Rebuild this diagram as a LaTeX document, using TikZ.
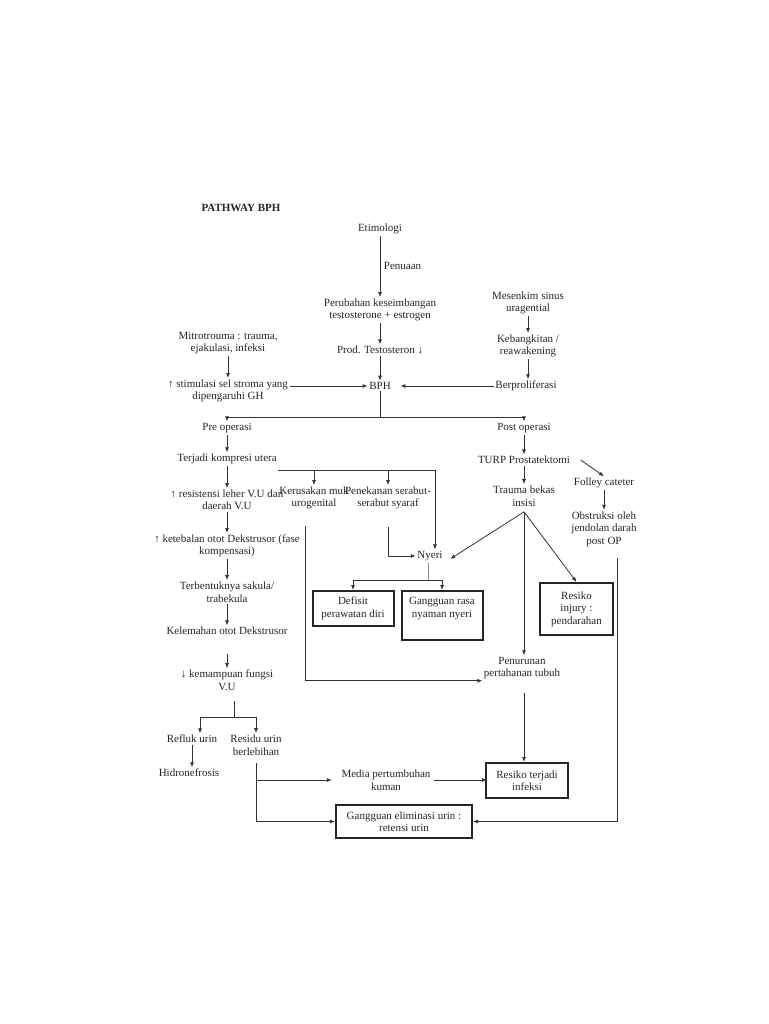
\documentclass[tikz,border=0pt]{standalone}
\usepackage{fontspec}
\setmainfont{Liberation Serif}
\usetikzlibrary{arrows.meta}
\begin{document}
\begin{tikzpicture}[x=1pt,y=-1pt,
	txt/.style={align=center,inner sep=1.5pt,text=black!85,font=\fontsize{11}{12.5}\selectfont},
	dx/.style={txt,draw=black!85,line width=2pt,inner sep=2pt},
	arr/.style={-{Latex[length=5pt,width=4pt]},draw=black!80,line width=0.8pt},
	ln/.style={draw=black!80,line width=0.8pt}]
	% Frame
	\fill[white] (0,0) rectangle (768,1024);
	\useasboundingbox (0,0) rectangle (768,1024);
	% Title
	\node[txt,font=\fontsize{11}{12.5}\selectfont\bfseries] (title) at (241,208) {PATHWAY BPH};
	% Middle column
	\node[txt] (etio) at (380,229) {Etimologi};
	\node[txt] (perub) at (380,310) {Perubahan keseimbangan\\testosterone + estrogen};
	\node[txt] (prod) at (380,350) {Prod. Testosteron ↓};
	\node[txt] (bph) at (380,386) {BPH};
	\draw[arr] (etio) -- (perub) node[txt,midway,right=2pt] (penuaan) {Penuaan};
	\draw[arr] (perub) -- (prod);
	\draw[arr] (prod) -- (bph);
	% Right top
	\node[txt] (mesen) at (528,303) {Mesenkim sinus\\uragential};
	\node[txt] (keb) at (528,346) {Kebangkitan /\\reawakening};
	\node[txt] (berp) at (526,386) {Berproliferasi};
	\draw[arr] (mesen) -- (keb);
	\draw[arr] (keb) -- (berp.north -| keb);
	\draw[arr] (berp) -- ([xshift=8pt]bph.east);
	% Left top
	\node[txt] (mitro) at (228,343) {Mitrotrouma : trauma,\\ejakulasi, infeksi};
	\node[txt] (stim) at (228,391) {↑ stimulasi sel stroma yang\\dipengaruhi GH};
	\draw[arr] (mitro) -- (stim);
	\draw[arr] (stim.east |- bph) -- (bph);
	% Split pre / post
	\node[txt] (pre) at (227,428) {Pre operasi};
	\node[txt] (post) at (524,428) {Post operasi};
	\coordinate (bsplit) at (380,417);
	\draw[ln] (bph) -- (bsplit);
	\draw[arr] (bsplit) -| (pre);
	\draw[arr] (bsplit) -| (post);
	% Pre operasi column
	\node[txt] (terj) at (227,459) {Terjadi kompresi utera};
	\node[txt] (resist) at (227,500) {↑ resistensi leher V.U dan\\daerah V.U};
	\node[txt] (keteb) at (227,546) {↑ ketebalan otot Dekstrusor (fase\\kompensasi)};
	\node[txt] (terb) at (227,592) {Terbentuknya sakula/\\trabekula};
	\node[txt] (kelem) at (227,631) {Kelemahan otot Dekstrusor};
	\node[txt] (kemamp) at (227,680) {↓ kemampuan fungsi\\V.U};
	\draw[arr] (pre) -- (terj);
	\draw[arr] (terj) -- (resist);
	\draw[arr] (resist) -- (keteb);
	\draw[arr] (keteb) -- (terb);
	\draw[arr] (terb) -- (kelem);
	\draw[arr] ([yshift=-17pt]kelem.south) -- (kemamp.north);
	% Kompresi branches
	\node[txt] (kerus) at (314,498) {Kerusakan muk\\urogenital};
	\node[txt] (penek) at (388,498) {Penekanan serabut-\\serabut syaraf};
	\node[txt] (nyeri) at (430,556) {Nyeri};
	\coordinate (tk) at ([yshift=-5pt]terj.south east);
	\draw[arr] (tk) -| ([xshift=5pt]nyeri.north);
	\draw[arr] (tk -| kerus.north) -- (kerus.north);
	\draw[arr] (tk -| penek.north) -- (penek.north);
	\draw[arr] ([yshift=-16pt]penek.south) |- (nyeri.west);
	% Nyeri diagnoses
	\node[dx,minimum width=81pt,minimum height=35pt] (defisit) at (353,608.5) {Defisit\\perawatan diri};
	\node[dx,minimum width=81pt,minimum height=49pt] (gangnyeri) at (442,615.5) {Gangguan rasa\\nyaman nyeri\\[4pt]\mbox{}};
	\coordinate (nsplit) at (428,580);
	\draw[draw=black!45,line width=0.6pt] (nyeri.south -| nsplit) -- (nsplit);
	\draw[arr] (nsplit) -| (defisit.north);
	\draw[arr] (nsplit) -| (gangnyeri.north);
	% Post operasi column
	\node[txt] (turp) at (524,460) {TURP Prostatektomi};
	\node[txt] (trauma) at (524,496) {Trauma bekas\\insisi};
	\node[txt] (folley) at (604,483) {Folley cateter};
	\node[txt] (obstr) at (604,529) {Obstruksi oleh\\jendolan darah\\post OP};
	\draw[arr] (post) -- (turp);
	\draw[arr] (turp) -- (trauma);
	\draw[arr] ([xshift=9pt]turp.east) -- (folley.north);
	\draw[arr] (folley) -- (obstr);
	% Trauma branches
	\node[dx,minimum width=73pt,minimum height=52pt] (injury) at (576.5,609) {Resiko\\injury :\\pendarahan};
	\node[txt] (penur) at (522,668) {Penurunan\\pertahanan tubuh};
	\coordinate (tapex) at ([yshift=-4pt]trauma.south);
	\draw[arr] (tapex) -- ([xshift=6pt,yshift=-3pt]nyeri.east);
	\draw[arr] (tapex) -- (injury.north);
	\draw[arr] (tapex) -- (tapex |- penur.north);
	\draw[arr] ([xshift=-9pt,yshift=-15pt]kerus.south) |- (penur.south west);
	% Infeksi
	\node[dx,minimum width=82pt,minimum height=35pt] (infeksi) at (527,780.5) {Resiko terjadi\\infeksi};
	\draw[arr] ([yshift=-12pt]penur.south -| tapex) -- (tapex |- infeksi.north);
	% VU branches
	\node[txt] (refluk) at (192,739) {Refluk urin};
	\node[txt] (residu) at (256,745) {Residu urin\\berlebihan};
	\node[txt] (hidro) at (189,773) {Hidronefrosis};
	\coordinate (ksplit) at (234,717);
	\draw[ln] ([xshift=7pt,yshift=-9pt]kemamp.south) -- (ksplit);
	\draw[arr] (ksplit) -| ([xshift=8pt]refluk.north);
	\draw[arr] (ksplit) -| (residu.north);
	\draw[arr] (refluk.south) -- (refluk.south |- hidro.north);
	% Bottom
	\node[txt] (media) at (386,780) {Media pertumbuhan\\kuman};
	\node[dx,minimum width=136pt,minimum height=33pt] (gangelim) at (404,821.5) {Gangguan eliminasi urin :\\retensi urin};
	\coordinate (rtop) at ([yshift=-6pt]residu.south);
	\draw[arr] (rtop) |- ([xshift=-8pt]media.west);
	\draw[arr] (rtop) |- (gangelim.west);
	\draw[arr] ([xshift=2pt]media.east) -- ([xshift=2pt]media.east -| infeksi.west);
	\draw[arr] ([xshift=13pt,yshift=-10pt]obstr.south) |- (gangelim.east);
\end{tikzpicture}
\end{document}
